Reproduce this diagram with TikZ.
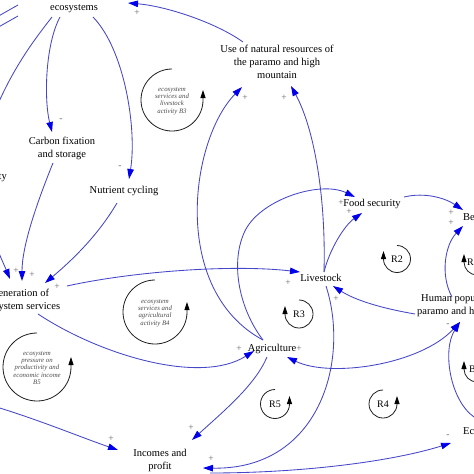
\documentclass[tikz,border=0pt]{standalone}
\usepackage{fontspec}
\setmainfont{Liberation Serif}
\usetikzlibrary{arrows.meta,calc}
\definecolor{linkc}{RGB}{70,70,200}
\definecolor{headc}{RGB}{0,0,235}
\definecolor{polc}{RGB}{105,105,105}
\definecolor{loopc}{RGB}{30,30,30}
\begin{document}
\begin{tikzpicture}[x=1pt,y=-1pt,
  lbl/.style={font=\fontsize{10.5}{13}\selectfont, align=center, inner sep=0pt, text=black},
  link/.style={draw=linkc, line width=0.85pt, -{Triangle[length=10pt,width=6.5pt,color=headc]}},
  linkboth/.style={draw=linkc, line width=0.85pt, {Triangle[length=10pt,width=6.5pt,color=headc]}-{Triangle[length=10pt,width=6.5pt,color=headc]}},
  plainlink/.style={draw=linkc, line width=0.85pt},
  pol/.style={font=\fontsize{9.5}{9.5}\selectfont, text=polc, inner sep=0pt},
  looparc/.style={draw=loopc, line width=0.8pt, -{Triangle[length=8pt,width=5pt,color=black]}},
  looptxt/.style={font=\fontsize{6.8}{7.4}\selectfont\itshape, text=black!70, align=center, inner sep=0pt},
  rtxt/.style={font=\fontsize{10}{12}\selectfont, inner sep=0pt}
]
\useasboundingbox (0,0) rectangle (474,474);
\clip (0,0) rectangle (474,474);
\fill[white] (0,0) rectangle (474,474);

% ---------- variables ----------
\node[lbl] (eco) at (74,9) {ecosystems};
\node[lbl] (use) at (277,62) {Use of natural resources of\\the paramo and high\\mountain};
\node[lbl] (carbon) at (62,148) {Carbon fixation\\and storage};
\node[lbl, anchor=east] (wq) at (7,177) {Water quality};
\node[lbl] (nutrient) at (124,191) {Nutrient cycling};
\node[lbl] (gen) at (20,300) {Generation of\\ecosystem services};
\node[lbl] (food) at (372,204) {Food security};
\node[lbl, anchor=west] (benef) at (463,217) {Benefits};
\node[lbl] (livestock) at (321,278) {Livestock};
\node[lbl, align=left, anchor=north west] (human) at (417,294) {\hspace{4pt}Human population in the\\paramo and high mountain};
\node[lbl] (agri) at (272,349) {Agriculture};
\node[lbl] (income) at (160,460) {Incomes and\\profit};
\node[lbl, anchor=west] (econ) at (463,431) {Economic};
\coordinate (offL) at (-10,405);

% ---------- loops ----------
\node[looptxt] (b3) at (172,101) {ecosystem\\services and\\livestock\\activity B3};
\node[looptxt] (b4) at (155,313) {ecosystem\\services and\\agricultural\\activity B4};
\node[looptxt] (b5) at (37,368) {ecosystem\\pressure on\\productivity and\\economic income\\B5};
\node[rtxt] (r2) at (397,259) {R2};
\node[rtxt] (r3) at (299,314) {R3};
\node[rtxt] (r5) at (275,404) {R5};
\node[rtxt] (r4) at (383,404) {R4};
\node[rtxt] (r1) at (473,262) {R1};
\node[rtxt] (b1) at (475,369) {B1};

\draw[looparc] ([shift={(0,-32)}]b3.center) arc[start angle=270,end angle=0,radius=31] -- ++(0,-10);
\draw[looparc] ([shift={(0,-33)}]b4.center) arc[start angle=270,end angle=0,radius=32] -- ++(0,-10);
\draw[looparc] ([shift={(0,-35)}]b5.center) arc[start angle=270,end angle=0,radius=34] -- ++(0,-10);
\draw[looparc] ([shift={(0,-13.5)}]r2.center) arc[start angle=270,end angle=540,radius=13.5] -- ++(0,-8);
\draw[looparc] ([shift={(0,-14)}]r3.center) arc[start angle=270,end angle=540,radius=14] -- ++(0,-8);
\draw[looparc] ([shift={(0,-14.5)}]r5.center) arc[start angle=270,end angle=0,radius=14.5] -- ++(0,-8);
\draw[looparc] ([shift={(0,-14)}]r4.center) arc[start angle=270,end angle=0,radius=14] -- ++(0,-8);
\draw[looparc] ([shift={(4,-13)}]r1.center) arc[start angle=270,end angle=540,radius=13] -- ++(0,-8);
\draw[looparc] ([shift={(2,-13)}]b1.center) arc[start angle=270,end angle=540,radius=13] -- ++(0,-8);

% ---------- links ----------
\draw[link] ([shift={(-34,-20)}]use.center) .. controls (215,22) and (165,6) .. ([shift={(54,-6)}]eco.center);
\draw[link] ([shift={(-14,8)}]eco.center) .. controls (45,45) and (44,100) .. ([shift={(-10,-16)}]carbon.center);
\draw[link] ([shift={(19,8)}]eco.center) .. controls (125,50) and (137,130) .. ([shift={(5,-12)}]nutrient.center);
\draw[link] ([shift={(-22,8)}]eco.center) .. controls (30,45) and (0,85) .. ([shift={(0,-12)}]wq.north);
\draw[plainlink] ([shift={(-56,-4)}]eco.center) -- ++(-30,17);
\draw[plainlink] ([shift={(-56,7)}]eco.center) -- ++(-30,17);

\draw[link] ([shift={(-9,15)}]carbon.center) .. controls (38,200) and (22,245) .. ([shift={(2,-19)}]gen.center);
\draw[link] ([shift={(-7,12)}]nutrient.center) .. controls (97,237) and (70,262) .. ([shift={(25,-17)}]gen.center);
\draw[link] (wq.south) .. controls (-15,225) and (0,255) .. ([shift={(-10,-21)}]gen.center);

\draw[link] ([shift={(47,-14)}]gen.center) .. controls (130,272) and (230,264) .. ([shift={(-21,-6)}]livestock.center);
\draw[link] ([shift={(18,14)}]gen.center) .. controls (100,355) and (200,385) .. ([shift={(-18,2)}]agri.center);
\draw[link] (offL) .. controls (40,420) and (80,437) .. ([shift={(-42,-10)}]income.center);

\draw[link] ([shift={(-5,8)}]agri.center) .. controls (255,385) and (225,410) .. ([shift={(32,-20)}]income.center);
\draw[link] ([shift={(5,8)}]livestock.center) .. controls (350,360) and (320,470) .. ([shift={(43,8)}]income.center);
\draw[link] ([shift={(50,13)}]income.center) .. controls (300,473) and (390,462) .. ([shift={(-12,12)}]econ.west);

\draw[link] ([shift={(-9,-9)}]agri.center) .. controls (170,290) and (190,140) .. ([shift={(-35,25)}]use.center);
\draw[link] ([shift={(-9,-9)}]agri.center) .. controls (240,310) and (230,265) .. (244,233) .. controls (258,200) and (320,180) .. ([shift={(-17,-7)}]food.center);

\draw[link] ([shift={(3,-6)}]livestock.center) .. controls (326,200) and (315,130) .. ([shift={(14,24)}]use.center);
\draw[link] ([shift={(3,-6)}]livestock.center) .. controls (330,248) and (345,225) .. ([shift={(-10,9)}]food.center);

\draw[link] ([shift={(32,-7)}]food.center) .. controls (425,192) and (445,198) .. ([shift={(0,-7)}]benef.west);
\draw[link] ([shift={(35,3)}]human.north west) .. controls (440,275) and (445,245) .. ([shift={(0,9)}]benef.west);
\draw[link] ([shift={(-2,20)}]human.north west) .. controls (380,308) and (355,300) .. ([shift={(12,8)}]livestock.center);
\draw[linkboth] ([shift={(15,8)}]agri.center) .. controls (330,378) and (420,365) .. ([shift={(43,28)}]human.north west);
\draw[link] ([shift={(11,-14)}]econ.west) .. controls (450,400) and (442,350) .. ([shift={(43,28)}]human.north west);

% ---------- polarities ----------
\node[pol] (p1) at (137,13) {+};
\node[pol] (p2) at (61,120) {-};
\node[pol] (p3) at (120,167) {-};
\node[pol] (p4) at (245,98) {+};
\node[pol] (p5) at (284,98) {+};
\node[pol] (p6) at (341,203) {+};
\node[pol] (p7) at (349,212) {+};
\node[pol] (p8) at (451,213) {+};
\node[pol] (p9) at (451,223) {+};
\node[pol] (p10) at (16,271) {+};
\node[pol] (p11) at (32,275) {+};
\node[pol] (p12) at (57,287) {+};
\node[pol] (p13) at (288,283) {+};
\node[pol] (p14) at (336,299) {+};
\node[pol] (p15) at (239,349) {+};
\node[pol] (p16) at (299,349) {+};
\node[pol] (p17) at (448,325) {-};
\node[pol] (p18) at (191,428) {+};
\node[pol] (p19) at (111,439) {+};
\node[pol] (p20) at (211,459) {+};
\node[pol] (p21) at (448,436) {-};
\end{tikzpicture}
\end{document}
